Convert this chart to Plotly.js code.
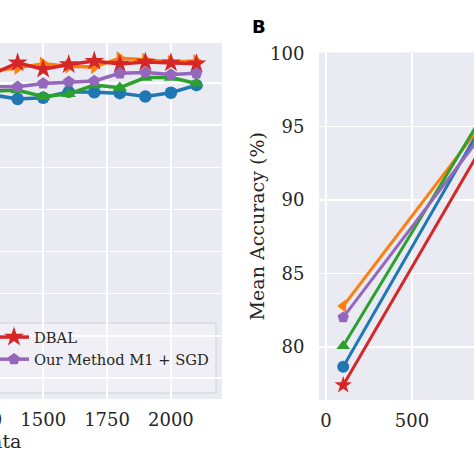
<!DOCTYPE html>
<html>
<head>
<meta charset="utf-8">
<script src="https://cdn.plot.ly/plotly-3.0.1.min.js"></script>
<style>
html,body{margin:0;padding:0;width:474px;height:474px;overflow:hidden;background:#fff;}
#chart{position:absolute;left:-420px;top:0;width:1320px;height:474px;}
</style>
</head>
<body>
<div id="chart"></div>
<script>
// ---- data ----
const seriesNames = ["Random", "Max Entropy", "BALD", "DBAL", "Our Method M1 + SGD"];
const colors = ["#1f77b4", "#ff7f0e", "#2ca02c", "#d62728", "#9467bd"];
const symbolsA = ["circle", "triangle-right", "triangle-up", "star", "pentagon"];
const symbolsB = ["circle", "triangle-left", "triangle-up", "star", "pentagon"];

// Panel A (left)
const xA = [1300, 1400, 1500, 1600, 1700, 1800, 1900, 2000, 2100];
const randomA  = [87.2, 86.2, 86.5, 87.9, 87.8, 87.6, 86.8, 87.7, 89.5];
const entropyA = [92.9, 93.6, 94.6, 94.0, 93.8, 95.9, 95.5, 95.0, 95.2];
const baldA    = [88.1, 88.3, 86.8, 87.4, 89.5, 88.9, 91.3, 91.3, 89.9];
const dbalA    = [92.1, 94.8, 93.3, 94.4, 95.2, 94.5, 95.0, 94.8, 94.6];
const oursA    = [89.1, 89.1, 89.9, 90.3, 90.5, 92.3, 92.5, 92.0, 92.3];

// Panel B (right)
const xB = [100, 1000];
const randomB  = [78.66, 97.0];
const entropyB = [82.79, 96.6];
const baldB    = [80.07, 97.5];
const dbalB    = [77.41, 95.5];
const oursB    = [82.02, 95.9];

const seriesA = [randomA, entropyA, baldA, dbalA, oursA];
const seriesB = [randomB, entropyB, baldB, dbalB, oursB];

// ---- layout helpers (div is 1320 wide, placed at -420px) ----
const DIV_LEFT = -420, ML = 80, MR = 19, W = 1320, H = 474;
const PW = W - ML - MR;
const px = (pageX) => (pageX - DIV_LEFT - ML) / PW;   // page x -> paper x
const py = (pageY) => 1 - pageY / H;                  // page y -> paper y

const serif = "DejaVu Serif, serif";
const txt = "#262626";

const traces = [];
seriesA.forEach((ys, i) => {
  traces.push({
    x: xA, y: ys, type: "scatter", mode: "lines+markers",
    name: seriesNames[i], xaxis: "x", yaxis: "y",
    line: {color: colors[i], width: 3.5},
    marker: {color: colors[i], symbol: symbolsA[i], size: i === 3 ? 15 : 12.5, line: {width: 0}},
    legend: i < 3 ? "legend" : "legend2"
  });
});
seriesB.forEach((ys, i) => {
  traces.push({
    x: xB, y: ys, type: "scatter", mode: "lines+markers",
    name: seriesNames[i], xaxis: "x2", yaxis: "y2", showlegend: false,
    line: {color: colors[i], width: 3},
    marker: {color: colors[i], symbol: symbolsB[i], size: i === 3 ? 13 : 12, line: {width: 0}}
  });
});

const axisCommon = {
  showgrid: true, gridcolor: "#ffffff", gridwidth: 1.5,
  zeroline: false, showline: false,
  ticks: "outside", tickcolor: "rgba(0,0,0,0)",
  tickfont: {family: serif, size: 18, color: txt},
  automargin: false
};

const layout = {
  width: W, height: H,
  margin: {l: ML, r: MR, t: 0, b: 0},
  paper_bgcolor: "#ffffff", plot_bgcolor: "#eaeaf2",
  showlegend: true,
  xaxis: Object.assign({}, axisCommon, {
    domain: [0, px(222)], range: [0, 2200], dtick: 250, tick0: 0, ticklen: 4,
    anchor: "y"
  }),
  yaxis: Object.assign({}, axisCommon, {
    domain: [py(399), py(43)], range: [15, 99.5], dtick: 10, ticklen: 8,
    anchor: "x",
    title: {text: "Mean Accuracy (%)", font: {family: serif, size: 19, color: txt}}
  }),
  xaxis2: Object.assign({}, axisCommon, {
    domain: [px(319), 1], range: [-40.7, 3227], dtick: 500, tick0: 0, ticklen: 4,
    anchor: "y2",
    title: {text: "Number of Training Data", font: {family: serif, size: 19, color: txt}}
  }),
  yaxis2: Object.assign({}, axisCommon, {
    domain: [py(400), py(52.5)], range: [76.4, 100.05], dtick: 5, ticklen: 10,
    anchor: "x2",
    title: {text: "Mean Accuracy (%)", font: {family: serif, size: 19, color: txt}, standoff: 0}
  }),
  legend: {
    x: px(-320), y: py(321), xanchor: "left", yanchor: "top",
    bgcolor: "rgba(0,0,0,0)", borderwidth: 0,
    font: {family: serif, size: 14.7, color: txt}
  },
  legend2: {
    x: px(-6), y: py(321), xanchor: "left", yanchor: "top",
    bgcolor: "rgba(0,0,0,0)", borderwidth: 0,
    font: {family: serif, size: 14.7, color: txt}
  },
  shapes: [{
    type: "rect", xref: "paper", yref: "paper", layer: "below",
    x0: px(-330), x1: px(216), y0: py(393), y1: py(323),
    fillcolor: "rgba(240,240,246,0.85)", line: {color: "#d0d0d8", width: 1}
  }],
  annotations: [
    {text: "Number of Training Data", xref: "paper", yref: "paper",
     x: px(23), y: py(441), xanchor: "right", yanchor: "middle", showarrow: false,
     font: {family: serif, size: 19, color: txt}},
    {text: "<b>B</b>", xref: "paper", yref: "paper",
     x: px(259), y: py(27), xanchor: "center", yanchor: "middle", showarrow: false,
     font: {family: "DejaVu Sans, sans-serif", size: 18, color: "#000"}}
  ]
};

Plotly.newPlot("chart", traces, layout, {staticPlot: true, displayModeBar: false});
</script>
</body>
</html>
